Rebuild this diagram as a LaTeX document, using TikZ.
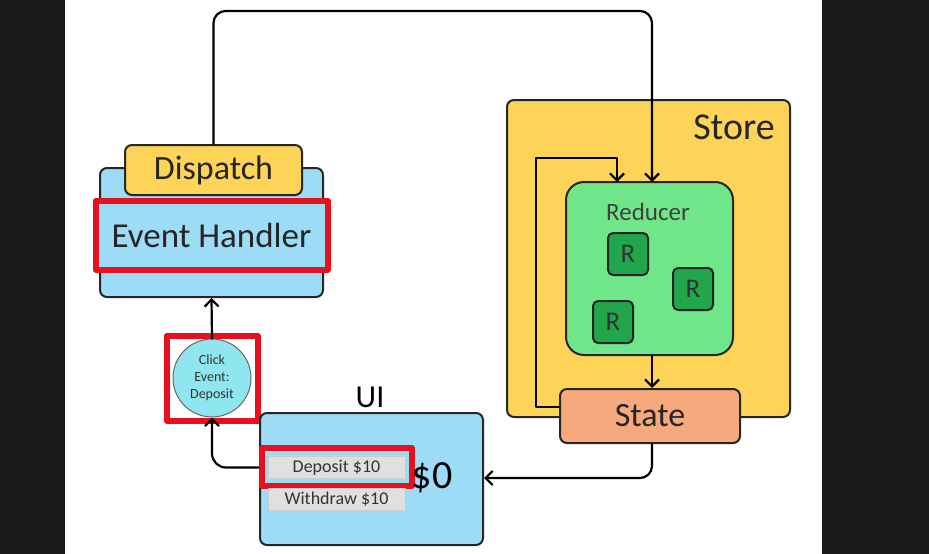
\documentclass[tikz,border=0pt]{standalone}
\usepackage{fontspec}
\setmainfont{Carlito}
\usetikzlibrary{arrows.meta,positioning}
\definecolor{skyblue}{HTML}{9DDCF7}
\definecolor{gold}{HTML}{FDD458}
\definecolor{mint}{HTML}{6FE68A}
\definecolor{leaf}{HTML}{22A64C}
\definecolor{salmon}{HTML}{F5A97C}
\definecolor{cyanish}{HTML}{8FE6EE}
\definecolor{hilite}{HTML}{E8101C}
\tikzset{
  box/.style={draw=black!85,line width=2pt,rounded corners=7pt,inner sep=0pt},
  redmark/.style={draw=hilite,line width=6pt,inner sep=0pt},
  button/.style={fill=black!12,draw=black!20,inner sep=0pt,minimum width=137pt,minimum height=22pt,font=\fontsize{18}{20}\selectfont,text=black!80},
  flow/.style={line width=2.2pt,rounded corners=12pt,-{Straight Barb[length=7pt,width=14pt]}}
}
\begin{document}
\begin{tikzpicture}[x=1pt,y=-1pt,line cap=round,line join=round]
  \useasboundingbox (0,0) rectangle (929,554);
  \fill[black!90] (0,0) rectangle (65,554);
  \fill[black!90] (822,0) rectangle (929,554);
  % left column
  \node[box,fill=skyblue,minimum width=223pt,minimum height=129pt] (handlerback) at (211.5,232.5) {};
  \node[box,fill=gold,minimum width=177pt,minimum height=50pt,font=\fontsize{34}{38}\selectfont,text=black!85] (dispatch) at (213.5,170) {\raisebox{1pt}{Dispatch}};
  \node[redmark,fill=skyblue,minimum width=232pt,minimum height=69pt,font=\fontsize{35}{38}\selectfont,text=black!85] (handler) at (211.5,235) {Event Handler};
  \node[redmark,minimum width=91pt,minimum height=85pt] (clickmark) at (212,378) {};
  \node[circle,draw=black!60,line width=1pt,fill=cyanish,minimum size=78pt,inner sep=0pt,align=center,font=\fontsize{14}{17}\selectfont,text=black!80] (click) at (212,378) {Click\\Event:\\Deposit};
  % UI
  \node[box,fill=skyblue,minimum width=223pt,minimum height=132pt] (ui) at (371.5,479) {};
  \node[font=\fontsize{32}{36}\selectfont] (uilabel) at (370,397) {UI};
  \node[button] (deposit) at (336.5,467.5) {Deposit \$10};
  \node[redmark,minimum width=150pt,minimum height=38pt] (depositmark) at (336.5,466.5) {};
  \node[button] (withdraw) at (336.5,499) {Withdraw \$10};
  \node[font=\fontsize{40}{44}\selectfont] (balance) at (432,478) {\$0};
  % store
  \node[box,fill=gold,minimum width=283pt,minimum height=317pt] (store) at (648.5,258.5) {};
  \node[font=\fontsize{38}{42}\selectfont,text=black!85] (storelabel) at (734,127) {Store};
  \node[box,rounded corners=18pt,fill=mint,minimum width=167pt,minimum height=173pt] (reducer) at (649.5,268.5) {};
  \node[font=\fontsize{25}{28}\selectfont,text=black!75] (reducerlabel) at (648,212) {Reducer};
  \foreach \nm/\px/\py in {ra/628/254, rb/693/289, rc/613/322}
    \node[box,rounded corners=5pt,fill=leaf,minimum width=40pt,minimum height=42pt,font=\fontsize{27}{30}\selectfont,text=black!80] (\nm) at (\px,\py) {R};
  \node[box,fill=salmon,minimum width=180pt,minimum height=54pt,font=\fontsize{34}{38}\selectfont,text=black!85] (state) at (650,416) {State};
  % connectors
  \coordinate (loopin) at (617,182);
  \coordinate (topin) at (652,182);
  \draw[flow] (dispatch.north) -- ++(0,-133) -| (topin);
  \draw[flow,rounded corners=0pt] (state.west |- 0,407) -- (536,407) -- (536,158) -| (loopin);
  \draw[flow] (reducer.south -| topin) -- (state.north -| topin);
  \draw[flow] (state.south -| topin) |- (ui.east |- balance);
  \draw[flow,rounded corners=14pt] (depositmark.west |- deposit) -| (click.south);
  \draw[flow] (click.north) -- (handlerback.south);
\end{tikzpicture}
\end{document}
